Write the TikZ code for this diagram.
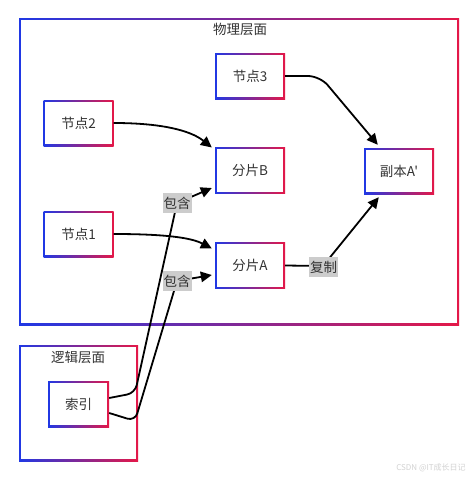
\documentclass[tikz,border=0pt]{standalone}
\usepackage{fontspec}
\newfontfamily\cjk{Noto Sans CJK SC}
\usetikzlibrary{arrows.meta}

\definecolor{gblue}{RGB}{32,56,228}
\definecolor{gred}{RGB}{228,24,72}
\definecolor{txt}{RGB}{51,51,51}

\tikzset{
  box/.style={rectangle, inner sep=0pt, minimum width=70pt, minimum height=46pt,
    left color=gblue, right color=gred, text=txt,
    font=\cjk\fontsize{13.5}{16}\selectfont,
    path picture={\fill[white] ([shift={(1.8pt,1.8pt)}]path picture bounding box.south west)
      rectangle ([shift={(-1.8pt,-1.8pt)}]path picture bounding box.north east);}},
  flow/.style={line width=1.8pt, -{Triangle[length=11pt,width=10.5pt]}, rounded corners=8pt},
  tag/.style={fill=gray!40, inner sep=1pt, minimum height=20pt, text=txt,
    font=\cjk\fontsize{13.5}{16}\selectfont},
  title/.style={text=txt, font=\cjk\fontsize{13.5}{16}\selectfont}
}

\begin{document}
\begin{tikzpicture}[x=1pt,y=-1pt]

  \fill[white] (0,0) rectangle (474,477);
  \useasboundingbox (0,0) rectangle (474,477);

  % Layers
  \node[box, minimum width=440pt, minimum height=307pt] (phys) at (239,171.5) {};
  \node[title] (physT) at (240,29) {物理层面};
  \node[box, minimum width=119pt, minimum height=116pt] (logic) at (78.5,403) {};
  \node[title] (logicT) at (78,357) {逻辑层面};

  % Nodes
  \foreach \name/\x/\y/\txt in {n2/78.5/123/节点2, n1/78.5/234/节点1, n3/250/76/节点3,
                                pB/250/170.5/分片B, pA/250/265.5/分片A, rep/399/171/副本A'}
    \node[box] (\name) at (\x,\y) {\txt};
  \node[box, minimum width=61pt] (idx) at (78.5,404) {索引};

  % Flows
  \draw[flow] (n2.east) .. controls (160,123) and (190,130) .. ([xshift=-3pt,yshift=23pt]pB.west);
  \draw[flow] (n1.east) .. controls (160,234) and (190,237) .. ([xshift=-3pt,yshift=17pt]pA.west);
  \draw[flow, rounded corners=12pt] (n3.east) -- (320,76) -- ([xshift=14pt,yshift=3pt]rep.north west);
  \draw[flow] (pA.east) -- (323,266) -- ([xshift=15pt,yshift=-3pt]rep.south west);
  \draw[flow] ([yshift=6pt]idx.east) -- (135,393) -- (177,203) -- ([xshift=-3pt,yshift=-17.5pt]pB.west);
  \draw[flow] ([yshift=-9pt]idx.east) -- (135,421) -- (177,281) -- ([xshift=-3pt,yshift=-9.5pt]pA.west);

  % Labels
  \node[tag] (copy) at (323.5,267) {复制};
  \node[tag] (hasB) at (177,203) {包含};
  \node[tag] (hasA) at (177,281) {包含};

  \node[text=gray!35, font=\cjk\fontsize{8}{9}\selectfont] (wm) at (431,468) {CSDN @IT成长日记};

\end{tikzpicture}
\end{document}
